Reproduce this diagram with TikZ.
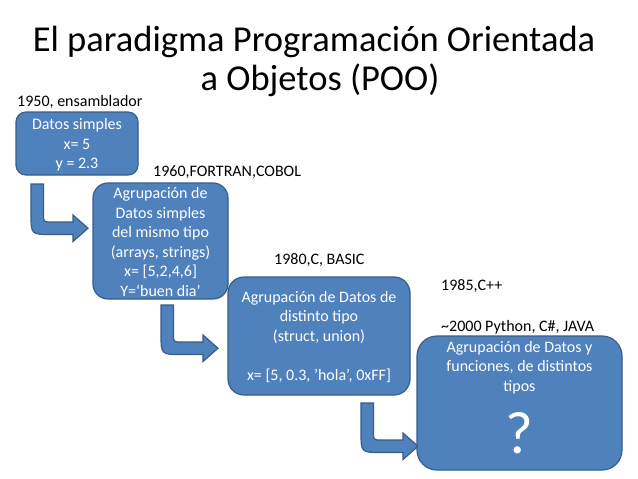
\documentclass[tikz,border=0pt]{standalone}
\usepackage{fontspec}
\setmainfont{Carlito}
\definecolor{boxfill}{HTML}{4F81BD}
\definecolor{boxline}{HTML}{385D8A}
\newcommand{\bentarrow}[4]{%
  % #1 stem left x, #2 stem top y, #3 shaft top y, #4 tip x
  \fill[boxfill, draw=boxline, line width=1.2pt]
    (#1,#2) -- (#1+12.5,#2) -- (#1+12.5,#3-8)
    .. controls (#1+12.5,#3) .. (#1+20.5,#3)
    -- (#4-15,#3) -- (#4-15,#3-7) -- (#4,#3+6.25) -- (#4-15,#3+19.5)
    -- (#4-15,#3+12.5) -- (#1+20.5,#3+12.5)
    .. controls (#1,#3+12.5) .. (#1,#3-8) -- cycle;
}
\tikzset{
  box/.style={draw=boxline, fill=boxfill, line width=1.2pt, inner sep=0pt},
  boxtext/.style={text=white, font=\fontsize{16}{19.5}\selectfont, align=center, inner sep=0pt},
  lbl/.style={font=\fontsize{16}{19}\selectfont, inner sep=0pt, anchor=west},
  ttl/.style={font=\fontsize{36.5}{36.5}\selectfont, inner sep=0pt}
}
\begin{document}
\begin{tikzpicture}[x=1pt,y=-1pt]
\useasboundingbox (0,0) rectangle (638,479);
\fill[white] (0,0) rectangle (638,479);
% title
\node[ttl] (t1) at (314,42) {El paradigma Programación Orientada};
\node[ttl] (t2) at (320,80) {a Objetos (POO)};
% arrows
\bentarrow{31}{184}{222}{88}
\bentarrow{161}{305}{342}{218}
\bentarrow{361}{403}{440}{418}
% boxes
\draw[box, rounded corners=10pt] (16,112) rectangle (138,175);
\node[boxtext] (b1) at (77,145) {Datos simples\\x= 5\\y = 2.3};
\draw[box, rounded corners=15pt] (93,183) rectangle (228,299);
\node[boxtext] (b2) at (160.5,242) {Agrupación de\\Datos simples\\del mismo tipo\\(arrays, strings)\\x= [5,2,4,6]\\Y=‘buen dia’};
\draw[box, rounded corners=16pt] (228,277) rectangle (410,395);
\node[boxtext] (b3) at (319,337) {Agrupación de Datos de\\distinto tipo\\(struct, union)\\[19.5pt]x= [5, 0.3, ’hola’, 0xFF]};
\draw[box, rounded corners=20pt] (417,336) rectangle (622,470);
\node[boxtext] (b4) at (519.5,367.5) {Agrupación de Datos y\\funciones, de distintos\\tipos};
\node[boxtext, font=\fontsize{60}{60}\selectfont] (q) at (519.5,433) {?};
% labels
\node[lbl] (l1) at (17,102) {1950, ensamblador};
\node[lbl] (l2) at (153,172) {1960,FORTRAN,COBOL};
\node[lbl] (l3) at (274,260) {1980,C, BASIC};
\node[lbl] (l4) at (441,286) {1985,C++};
\node[lbl] (l5) at (441,327) {\textasciitilde2000 Python, C\#, JAVA};
\end{tikzpicture}
\end{document}
